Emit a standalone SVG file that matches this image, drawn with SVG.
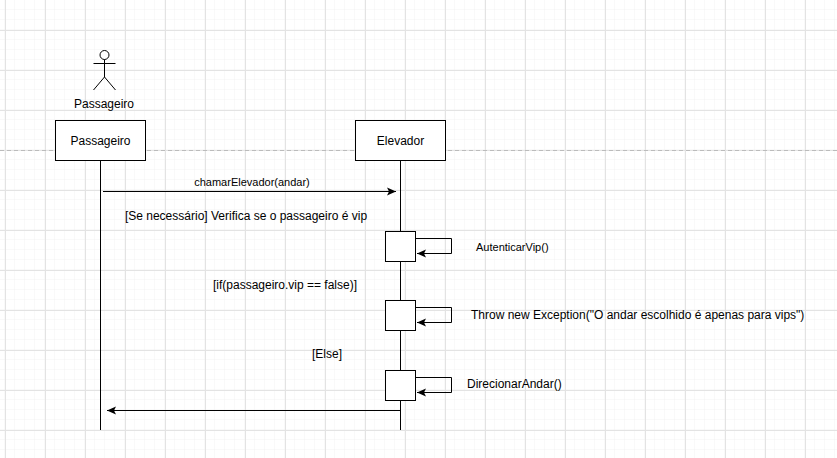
<svg xmlns="http://www.w3.org/2000/svg" width="837" height="458" viewBox="0 0 837 458">
<defs>
<pattern id="minor" width="10" height="10" patternUnits="userSpaceOnUse" x="5" y="0"><path d="M10 0V10M0 10H10" fill="none" stroke="#f2f2f2" stroke-width="1"/></pattern>
<pattern id="major" width="40" height="40" patternUnits="userSpaceOnUse" x="5" y="30"><path d="M0.5 0V40M0 0.5H40" fill="none" stroke="#e3e3e3" stroke-width="1"/></pattern>
<marker id="ar" markerWidth="10" markerHeight="10" refX="9" refY="5" orient="auto" markerUnits="userSpaceOnUse"><path d="M0 1L9 5L0 9L2 5Z" fill="#000"/></marker>
</defs>
<style>
text{font-family:"Liberation Sans",Arial,sans-serif;font-size:12px;fill:#000}
.c{text-anchor:middle}
.b{fill:#fff;stroke:#000;stroke-width:1}
.l{stroke:#000;stroke-width:1;fill:none}
</style>
<rect width="837" height="458" fill="#fff"/>
<rect width="837" height="458" fill="url(#minor)"/>
<rect width="837" height="458" fill="url(#major)"/>
<line x1="0" y1="150.5" x2="837" y2="150.5" stroke="#bbb" stroke-dasharray="4 3"/>
<g id="actor">
<circle class="b" cx="104.5" cy="55" r="4.5"/>
<path class="l" d="M104.5 59.5V77M93.5 63.5H115.5M104.5 77L93.5 90M104.5 77L115.5 90"/>
<text class="c" x="104" y="108">Passageiro</text>
</g>
<g id="passageiro">
<line class="l" x1="100.5" y1="161" x2="100.5" y2="430"/>
<rect class="b" x="55.5" y="120.5" width="90" height="40"/>
<text class="c" x="100.5" y="145">Passageiro</text>
</g>
<g id="elevador">
<line class="l" x1="400.5" y1="161" x2="400.5" y2="430"/>
<rect class="b" x="355.5" y="120.5" width="90" height="40"/>
<text class="c" x="400.5" y="145">Elevador</text>
</g>
<g id="act1"><rect class="b" x="385.5" y="231.5" width="30" height="30"/></g>
<g id="act2"><rect class="b" x="385.5" y="300.5" width="30" height="30"/></g>
<g id="act3"><rect class="b" x="385.5" y="370.5" width="30" height="30"/></g>
<g id="connectors">
<line class="l" x1="103" y1="191.5" x2="396" y2="191.5" marker-end="url(#ar)"/>
<path class="l" d="M415.5 238.5H451.5V253.5H417" marker-end="url(#ar)"/>
<path class="l" d="M415.5 307.5H451.5V322.5H417" marker-end="url(#ar)"/>
<path class="l" d="M415.5 377.5H451.5V392.5H417" marker-end="url(#ar)"/>
<line class="l" x1="400" y1="410.5" x2="107" y2="410.5" marker-end="url(#ar)"/>
</g>
<g id="labels">
<text class="c" x="252" y="186" style="font-size:11px">chamarElevador(andar)</text>
<text class="c" x="246" y="220">[Se necessário] Verifica se o passageiro é vip</text>
<text x="476" y="251" style="font-size:11px">AutenticarVip()</text>
<text class="c" x="285" y="289">[if(passageiro.vip == false)]</text>
<text x="471" y="319">Throw new Exception("O andar escolhido é apenas para vips")</text>
<text class="c" x="327" y="358">[Else]</text>
<text x="467" y="388">DirecionarAndar()</text>
</g>
</svg>
